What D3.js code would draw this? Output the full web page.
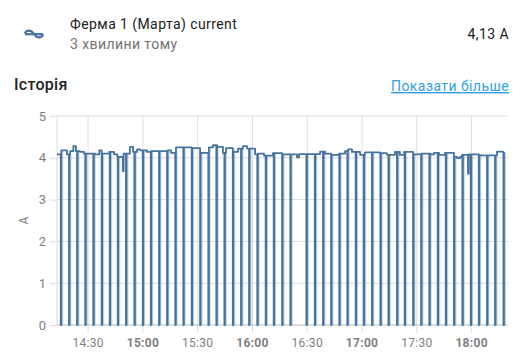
<!DOCTYPE html>
<html>
<head>
<meta charset="utf-8">
<script src="https://cdn.jsdelivr.net/npm/d3@7"></script>
<style>
  html, body { margin: 0; padding: 0; background: #fff; }
  svg { display: block; font-family: Roboto, sans-serif; }
</style>
</head>
<body>
<div id="chart"></div>
<script>
// minutes after 14:00 at which the current drops to zero
const pulseMinutes = [15.3, 19.8, 24.2, 28.7, 33.1, 37.7, 42.1, 46.5, 51.0, 55.6, 60.2, 64.6, 69.1, 73.5,
  78.0, 82.4, 87.0, 91.6, 96.1, 100.5, 104.9, 109.5, 114.0, 118.4, 122.9, 127.5, 131.9, 136.5, 141.0,
  149.8, 154.4, 158.9, 163.3, 167.8, 172.2, 176.8, 181.2, 185.7, 190.3, 194.7, 199.4, 203.6, 208.2,
  212.6, 217.1, 221.7, 226.1, 230.6, 235.2, 239.8, 244.2, 248.7, 253.1, 257.7];

// level between the drops, held until the next entry
const levelMinutes = [13.2, 15.3, 18.7, 20.4, 22.2, 23.6, 25.8, 28.0, 34.1, 36.4, 37.7, 41.9, 44.5, 46.3,
  49.3, 49.7, 53.2, 54.9, 57.1, 58.7, 62.5, 64.7, 73.6, 75.7, 78.4, 87.2, 91.6, 96.1, 98.7, 100.9, 104.1,
  105.8, 109.6, 112.4, 115.1, 117.3, 121.7, 123.3, 126.6, 131.5, 136.5, 144.7, 145.8, 157.3, 160.0,
  163.3, 167.7, 171.0, 172.6, 174.8, 179.2, 181.9, 190.1, 193.9, 198.3, 201.0, 203.3, 208.2, 213.1,
  217.5, 219.7, 222.4, 225.7, 230.6, 232.3, 233.9, 235.0, 238.3, 238.7, 244.3, 254.2, 257.5];
const levelValues = [4.08, 4.18, 4.08, 4.16, 4.28, 4.16, 4.14, 4.10, 4.08, 4.18, 4.10, 4.14, 4.08, 4.02,
  3.68, 4.10, 4.26, 4.14, 4.20, 4.18, 4.14, 4.16, 4.18, 4.12, 4.25, 4.23, 4.12, 4.25, 4.30, 4.26, 4.12,
  4.23, 4.14, 4.22, 4.28, 4.22, 4.08, 4.10, 4.05, 4.11, 4.08, 4.01, 4.09, 4.15, 4.10,
  4.07, 4.10, 4.16, 4.20, 4.14, 4.07, 4.13, 4.11, 4.07, 4.14, 4.07, 4.14, 4.08, 4.10,
  4.08, 4.12, 4.07, 4.12, 4.02, 3.99, 4.02, 4.07, 3.62, 4.08, 4.06, 4.15, 4.13];

const yTicks = [0, 1, 2, 3, 4, 5];
const startMinute = 13.24;
const endMinute = 260.2;

const COLOR = '#44739e';
const GRID = '#dddddd';
const PULSE_WIDTH = 0.3;
const FILL_WIDTH = 1.4;

const day = new Date(2024, 0, 1, 14, 0);
const toTime = m => new Date(+day + m * 60000);

const levelAt = m => {
  let i = d3.bisectRight(levelMinutes, m) - 1;
  return levelValues[Math.max(0, i)];
};

// merge the level steps and the drops into one step series
const series = [];
levelMinutes.forEach((m, i) => series.push({ m, v: levelValues[i], o: 1 }));
pulseMinutes.forEach(m => {
  series.push({ m, v: 0, o: 0 });
  series.push({ m: m + PULSE_WIDTH, v: levelAt(m + PULSE_WIDTH), o: 2 });
});
series.sort((a, b) => a.m - b.m || a.o - b.o);
// a level step inside a drop must not lift it off zero
const points = series.filter(d => !(d.o === 1 && pulseMinutes.some(p => d.m >= p && d.m < p + PULSE_WIDTH)));

const svg = d3.select('#chart').append('svg').attr('width', 526).attr('height', 360);

const x = d3.scaleTime().domain([toTime(startMinute), toTime(endMinute)]).range([57, 508]);
const y = d3.scaleLinear().domain([0, 5]).range([325, 116]);

// header
const icon = svg.append('g').attr('fill', 'none').attr('stroke', COLOR).attr('stroke-width', 2.2);
icon.append('path').attr('d', 'M24.5,33.5 C27,29.5 31,29.5 34,34 S41,38.5 43.5,34.5');
icon.append('path').attr('d', 'M25,34.2 H43');

svg.append('text').attr('x', 70).attr('y', 29).attr('font-size', 14).attr('letter-spacing', 0.42).attr('fill', '#212121')
  .text('Ферма 1 (Марта) current');
svg.append('text').attr('x', 70).attr('y', 49).attr('font-size', 14).attr('letter-spacing', 0.42).attr('fill', '#727272')
  .text('3 хвилини тому');
svg.append('text').attr('x', 509).attr('y', 39).attr('font-size', 14).attr('letter-spacing', 0.42).attr('fill', '#212121')
  .attr('text-anchor', 'end').text('4,13 A');
svg.append('text').attr('x', 14).attr('y', 90).attr('font-size', 16).attr('letter-spacing', 0.3).attr('font-weight', 500).attr('fill', '#212121')
  .text('Історія');
svg.append('text').attr('x', 509).attr('y', 91).attr('font-size', 14).attr('letter-spacing', 0.42).attr('fill', '#2f9fe0')
  .attr('text-anchor', 'end').attr('text-decoration', 'underline').text('Показати більше');

// axes
const xAxis = d3.axisBottom(x)
  .ticks(d3.timeMinute.every(30))
  .tickSize(217)
  .tickPadding(5)
  .tickFormat(d3.timeFormat('%H:%M'));
const gx = svg.append('g').attr('transform', 'translate(0,116)').call(xAxis);
gx.select('.domain').remove();
gx.selectAll('line').attr('stroke', GRID);
gx.selectAll('text')
  .attr('font-size', 12)
  .attr('letter-spacing', 0.3)
  .attr('font-family', 'Roboto, sans-serif')
  .attr('fill', '#808080')
  .attr('font-weight', d => d.getMinutes() === 0 ? 700 : 400);

const yAxis = d3.axisLeft(y)
  .tickValues(yTicks)
  .tickSize(7)
  .tickPadding(4)
  .tickFormat(d3.format('d'));
const gy = svg.append('g').attr('transform', 'translate(57,0)').call(yAxis);
gy.select('.domain').attr('stroke', GRID).attr('d', `M0,${y(5)}V${y(0)}`);
gy.selectAll('line').attr('stroke', GRID);
gy.selectAll('text')
  .attr('font-size', 13)
  .attr('font-family', 'Roboto, sans-serif')
  .attr('fill', '#808080');

svg.append('g').selectAll('line')
  .data(yTicks)
  .enter().append('line')
  .attr('x1', 57)
  .attr('x2', 508)
  .attr('y1', d => y(d))
  .attr('y2', d => y(d))
  .attr('stroke', d => d === 0 ? '#bbbbbb' : GRID);

svg.append('text')
  .attr('transform', `translate(28,${y(2.5)}) rotate(-90)`)
  .attr('text-anchor', 'middle')
  .attr('font-size', 12)
  .attr('fill', '#808080')
  .text('A');

// light strip beside each drop
svg.append('g').selectAll('rect')
  .data(pulseMinutes)
  .enter().append('rect')
  .attr('x', d => x(toTime(d)))
  .attr('width', d => x(toTime(d + FILL_WIDTH)) - x(toTime(d)))
  .attr('y', d => y(levelAt(d)))
  .attr('height', d => y(0) - y(levelAt(d)))
  .attr('fill', COLOR)
  .attr('fill-opacity', 0.25);

const line = d3.line()
  .x(d => x(toTime(d.m)))
  .y(d => y(d.v))
  .curve(d3.curveStepAfter);

svg.append('path')
  .datum(points)
  .attr('d', line)
  .attr('fill', 'none')
  .attr('stroke', COLOR)
  .attr('stroke-width', 1.8)
  .attr('stroke-linejoin', 'round');
</script>
</body>
</html>
